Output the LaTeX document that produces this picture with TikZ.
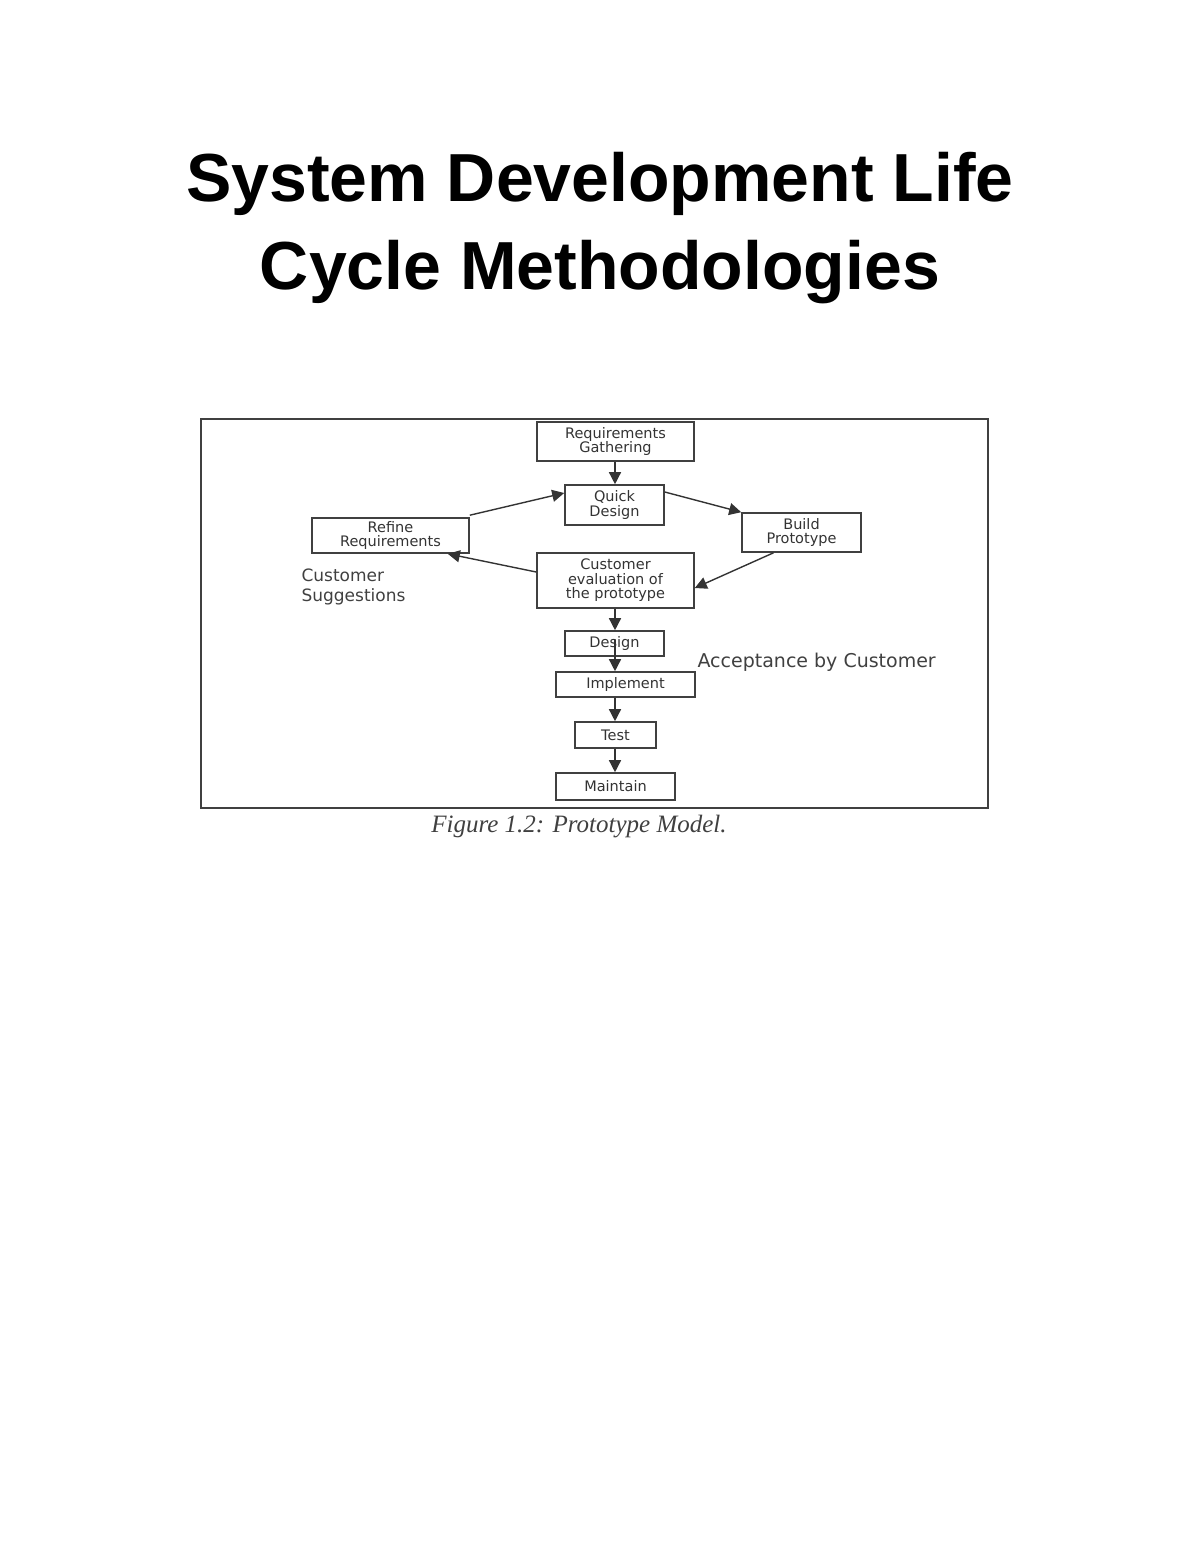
\documentclass[tikz,border=0pt]{standalone}
\usepackage{fontspec}
\setmainfont{Liberation Serif}
\newfontfamily\titlefont{Liberation Sans}
\newfontfamily\boxfont{DejaVu Sans}
\usetikzlibrary{arrows.meta}
\begin{document}
\begin{tikzpicture}[x=1pt,y=-1pt,
  bx/.style={draw=black!75,line width=1.6pt,inner sep=0pt,font=\boxfont\fontsize{14.5}{14.5}\selectfont,align=center,text=black!80},
  ar/.style={draw=black!80,line width=1.4pt,-{Triangle[length=12pt,width=12pt]}},
  lbl/.style={font=\boxfont\fontsize{17}{20}\selectfont,text=black!75}]
\useasboundingbox (0,0) rectangle (1200,1553);
\node[font=\titlefont\bfseries\fontsize{68}{88}\selectfont,align=center] (title) at (600,228) {System Development Life\\Cycle Methodologies};
\draw[black!75,line width=1.5pt] (201,419) rectangle (988,808);
\node[bx,minimum width=157pt,minimum height=39pt] (req) at (615.5,441.5) {Requirements\\Gathering};
\node[bx,minimum width=99pt,minimum height=40pt] (qd) at (614.5,505) {Quick\\Design};
\node[bx,minimum width=157pt,minimum height=35pt] (ref) at (390.5,535.5) {Refine\\Requirements};
\node[bx,minimum width=119pt,minimum height=39pt] (bp) at (801.5,532.5) {Build\\Prototype};
\node[bx,minimum width=157pt,minimum height=55pt] (ev) at (615.5,580.5) {Customer\\evaluation of\\the prototype};
\node[bx,minimum width=99pt,minimum height=25pt] (de) at (614.5,643.5) {Design};
\node[bx,minimum width=139pt,minimum height=25pt] (im) at (625.5,684.5) {Implement};
\node[bx,minimum width=81pt,minimum height=26pt] (te) at (615.5,735) {Test};
\node[bx,minimum width=119pt,minimum height=27pt] (ma) at (615.5,786.5) {Maintain};
\node[lbl,align=left,anchor=west] (cs) at (298,587) {Customer\\Suggestions};
\node[lbl,anchor=west,font=\boxfont\fontsize{19}{22}\selectfont] (acc) at (694,662) {Acceptance by Customer};
\node[font=\itshape\fontsize{25}{28}\selectfont,text=black!75] (cap) at (579,827) {Figure 1.2: Prototype Model.};
\draw[ar] (req.south -| 615,0) -- (qd.north -| 615,0);
\draw[ar] ([yshift=2pt]ref.north east) -- (qd.west |- 0,493);
\draw[ar] (qd.east |- 0,492) -- (bp.north west);
\draw[ar] ([xshift=-28pt]bp.south) -- (ev.east |- 0,588);
\draw[ar] (ev.west |- 0,572) -- ([xshift=-22pt]ref.south east);
\draw[ar] (ev.south -| 615,0) -- (de.north -| 615,0);
\draw[ar] (615,640) -- (im.north -| 615,0);
\draw[ar] (im.south -| 615,0) -- (te.north -| 615,0);
\draw[ar] (te.south -| 615,0) -- (ma.north -| 615,0);
\end{tikzpicture}
\end{document}
